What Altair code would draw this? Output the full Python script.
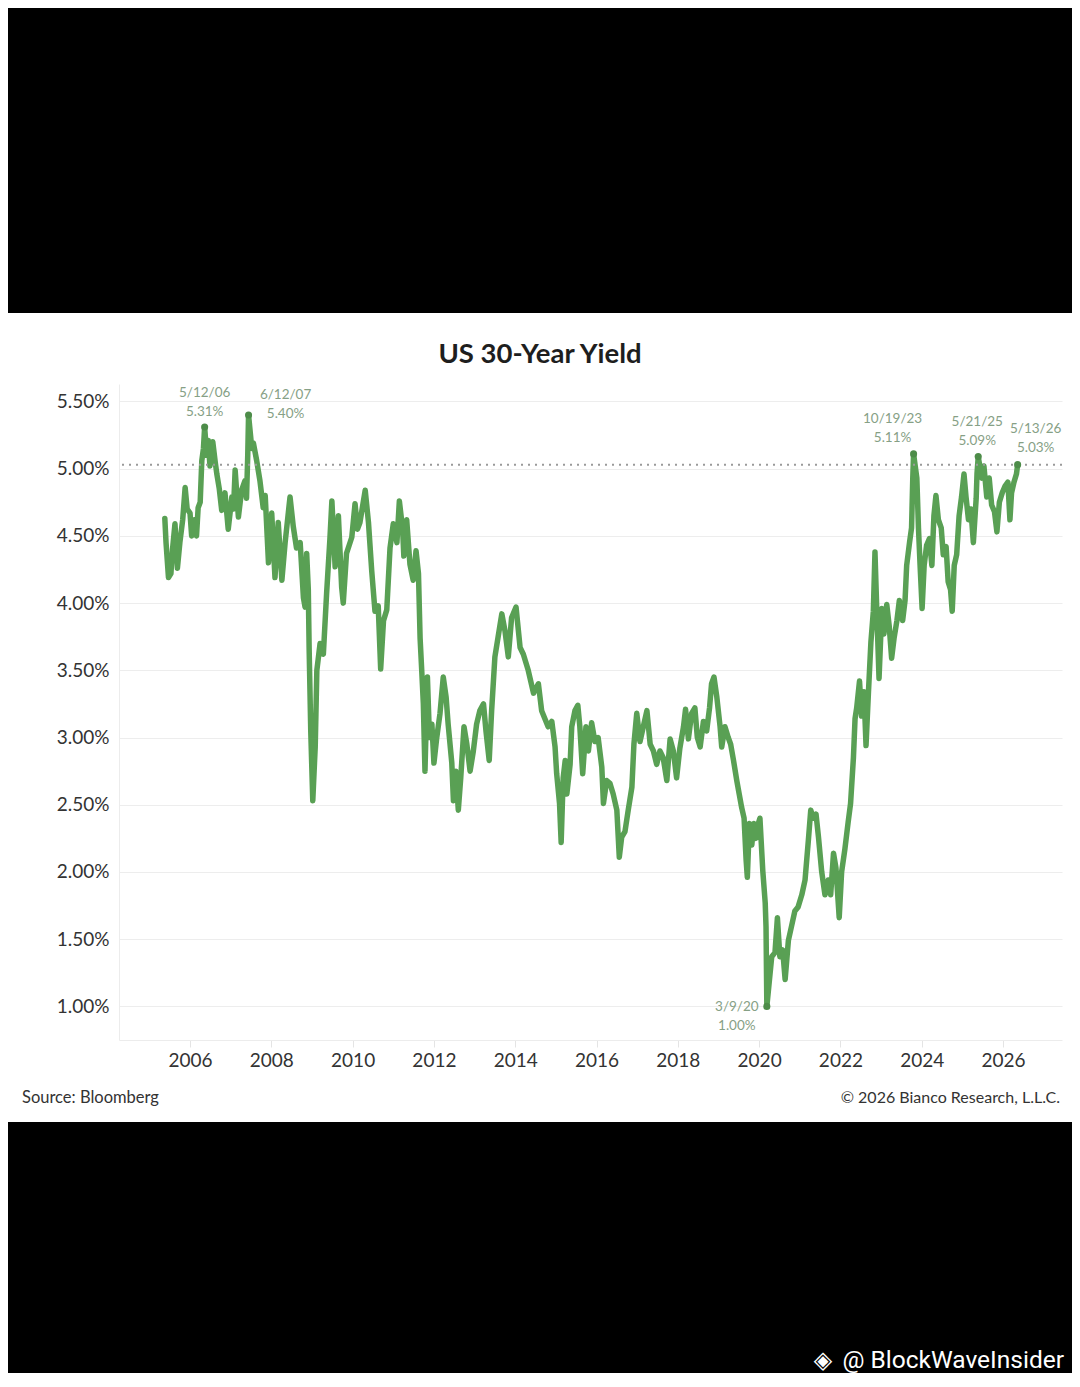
import altair as alt
import pandas as pd

# US 30-year Treasury yield (%)
years_2005_2009 = [
    2005.38, 2005.41, 2005.47, 2005.53, 2005.57, 2005.63, 2005.69, 2005.75, 2005.82, 2005.88,
    2005.93, 2006.00, 2006.04, 2006.11, 2006.16, 2006.20, 2006.25, 2006.29, 2006.33, 2006.36,
    2006.41, 2006.45, 2006.49, 2006.56, 2006.62, 2006.66, 2006.72, 2006.78, 2006.86, 2006.94,
    2007.03, 2007.07, 2007.11, 2007.19, 2007.27, 2007.35, 2007.39, 2007.42, 2007.44, 2007.52,
    2007.56, 2007.64, 2007.72, 2007.80, 2007.85, 2007.93, 2008.01, 2008.09, 2008.17, 2008.26,
    2008.34, 2008.46, 2008.54, 2008.62, 2008.71, 2008.79, 2008.83, 2008.87, 2008.91, 2008.93,
    2008.97, 2009.02, 2009.08, 2009.12, 2009.20, 2009.28, 2009.36, 2009.44, 2009.49, 2009.57,
    2009.65, 2009.73, 2009.77, 2009.85, 2009.98,
]
yields_2005_2009 = [
    4.63, 4.45, 4.19, 4.22, 4.40, 4.59, 4.26, 4.45, 4.62, 4.86,
    4.70, 4.67, 4.50, 4.62, 4.50, 4.71, 4.75, 5.06, 5.15, 5.31,
    5.10, 5.21, 5.02, 5.20, 5.05, 4.96, 4.85, 4.69, 4.82, 4.55,
    4.79, 4.70, 4.99, 4.64, 4.84, 4.91, 4.78, 5.10, 5.40, 5.15,
    5.19, 5.06, 4.91, 4.71, 4.80, 4.30, 4.67, 4.19, 4.60, 4.17,
    4.45, 4.79, 4.57, 4.41, 4.45, 4.04, 3.97, 4.37, 4.10, 3.67,
    3.05, 2.53, 2.93, 3.50, 3.70, 3.62, 4.07, 4.47, 4.76, 4.27,
    4.65, 4.12, 4.00, 4.37, 4.49,
]

years_2010_2014 = [
    2010.06, 2010.12, 2010.18, 2010.31, 2010.39, 2010.47, 2010.55, 2010.63, 2010.69, 2010.76,
    2010.84, 2010.92, 2011.00, 2011.09, 2011.15, 2011.23, 2011.26, 2011.33, 2011.41, 2011.49,
    2011.56, 2011.62, 2011.66, 2011.70, 2011.74, 2011.78, 2011.84, 2011.89, 2011.95, 2012.00,
    2012.07, 2012.15, 2012.23, 2012.30, 2012.35, 2012.44, 2012.48, 2012.54, 2012.60, 2012.66,
    2012.74, 2012.81, 2012.89, 2012.97, 2013.05, 2013.13, 2013.22, 2013.28, 2013.36, 2013.42,
    2013.50, 2013.58, 2013.67, 2013.75, 2013.83, 2013.91, 2014.02, 2014.12, 2014.20, 2014.32,
    2014.45, 2014.57, 2014.65,
]
yields_2010_2014 = [
    4.74, 4.55, 4.60, 4.84, 4.60, 4.24, 3.94, 3.98, 3.51, 3.87,
    3.95, 4.41, 4.59, 4.45, 4.76, 4.55, 4.35, 4.62, 4.29, 4.17,
    4.39, 4.22, 3.74, 3.50, 3.25, 2.75, 3.45, 3.00, 3.10, 2.81,
    3.00, 3.18, 3.45, 3.30, 3.10, 2.81, 2.53, 2.75, 2.46, 2.70,
    3.08, 2.95, 2.75, 2.90, 3.10, 3.20, 3.25, 3.05, 2.83, 3.20,
    3.60, 3.75, 3.92, 3.79, 3.60, 3.89, 3.97, 3.67, 3.62, 3.50,
    3.33, 3.40, 3.20,
]

years_2014_2020 = [
    2014.81, 2014.90, 2014.98, 2015.02, 2015.09, 2015.13, 2015.18, 2015.23, 2015.27, 2015.35,
    2015.39, 2015.47, 2015.54, 2015.59, 2015.66, 2015.74, 2015.80, 2015.88, 2015.96, 2016.04,
    2016.13, 2016.17, 2016.25, 2016.33, 2016.41, 2016.50, 2016.56, 2016.62, 2016.70, 2016.78,
    2016.87, 2016.92, 2016.99, 2017.07, 2017.15, 2017.24, 2017.32, 2017.40, 2017.48, 2017.56,
    2017.64, 2017.73, 2017.81, 2017.89, 2017.97, 2018.05, 2018.14, 2018.19, 2018.26, 2018.34,
    2018.42, 2018.48, 2018.55, 2018.63, 2018.71, 2018.78, 2018.83, 2018.89, 2018.96, 2019.04,
    2019.08, 2019.16, 2019.24, 2019.30, 2019.37, 2019.45, 2019.51, 2019.57, 2019.63, 2019.68,
    2019.71, 2019.76, 2019.82, 2019.87, 2019.92, 2019.98, 2020.02, 2020.09, 2020.15, 2020.17,
    2020.19,
]
yields_2014_2020 = [
    3.08, 3.12, 2.93, 2.73, 2.51, 2.22, 2.70, 2.83, 2.58, 2.80,
    3.08, 3.20, 3.24, 3.08, 2.73, 3.08, 2.90, 3.11, 2.97, 3.00,
    2.78, 2.51, 2.68, 2.66, 2.58, 2.46, 2.11, 2.26, 2.30, 2.46,
    2.63, 2.95, 3.18, 2.97, 3.08, 3.20, 2.95, 2.90, 2.80, 2.90,
    2.85, 2.68, 2.99, 2.90, 2.70, 2.92, 3.08, 3.21, 2.99, 3.18,
    3.22, 3.00, 2.93, 3.12, 3.05, 3.22, 3.40, 3.45, 3.30, 3.08,
    2.93, 3.08, 3.00, 2.95, 2.83, 2.68, 2.58, 2.48, 2.40, 2.09,
    1.96, 2.36, 2.20, 2.36, 2.25, 2.36, 2.40, 2.01, 1.77, 1.59,
    1.00,
]

years_2020_2026 = [
    2020.31, 2020.39, 2020.45, 2020.51, 2020.58, 2020.64, 2020.72, 2020.80, 2020.88, 2020.96,
    2021.05, 2021.13, 2021.21, 2021.27, 2021.33, 2021.40, 2021.46, 2021.54, 2021.62, 2021.70,
    2021.76, 2021.83, 2021.89, 2021.97, 2022.03, 2022.11, 2022.19, 2022.25, 2022.32, 2022.36,
    2022.40, 2022.47, 2022.52, 2022.58, 2022.63, 2022.69, 2022.75, 2022.81, 2022.85, 2022.89,
    2022.95, 2023.02, 2023.07, 2023.14, 2023.20, 2023.26, 2023.32, 2023.39, 2023.45, 2023.53,
    2023.59, 2023.63, 2023.70, 2023.75, 2023.78, 2023.80, 2023.88, 2023.92, 2023.96, 2024.01,
    2024.06, 2024.12, 2024.19, 2024.25, 2024.30, 2024.35, 2024.41, 2024.48, 2024.53, 2024.60,
    2024.65, 2024.71, 2024.75, 2024.80, 2024.86, 2024.92, 2024.98, 2025.04, 2025.09, 2025.15,
    2025.21, 2025.27, 2025.34, 2025.36, 2025.39, 2025.48, 2025.53, 2025.60, 2025.66, 2025.72,
    2025.79, 2025.85, 2025.91, 2025.98, 2026.05, 2026.12, 2026.17, 2026.21, 2026.27, 2026.33,
    2026.36,
]
yields_2020_2026 = [
    1.37, 1.40, 1.66, 1.37, 1.42, 1.20, 1.49, 1.60, 1.71, 1.74,
    1.83, 1.94, 2.23, 2.46, 2.40, 2.43, 2.26, 2.00, 1.83, 1.94,
    1.83, 2.14, 2.03, 1.66, 2.00, 2.17, 2.37, 2.51, 2.85, 3.14,
    3.22, 3.42, 3.16, 3.34, 2.94, 3.34, 3.71, 3.94, 4.38, 3.99,
    3.44, 3.96, 3.77, 3.99, 3.83, 3.59, 3.74, 3.87, 4.02, 3.87,
    4.02, 4.28, 4.45, 4.56, 4.93, 5.11, 4.93, 4.56, 4.28, 3.96,
    4.28, 4.43, 4.48, 4.28, 4.65, 4.80, 4.62, 4.56, 4.36, 4.42,
    4.16, 4.10, 3.94, 4.28, 4.36, 4.65, 4.79, 4.96, 4.79, 4.62,
    4.70, 4.45, 4.78, 4.96, 5.09, 4.93, 5.02, 4.79, 4.93, 4.73,
    4.68, 4.53, 4.75, 4.82, 4.87, 4.90, 4.62, 4.82, 4.90, 4.96,
    5.03,
]

# marked highs / low
mark_dates = ["5/12/06", "6/12/07", "3/9/20", "10/19/23", "5/21/25", "5/13/26"]
mark_years = [2006.36, 2007.44, 2020.19, 2023.80, 2025.39, 2026.36]
mark_yields = [5.31, 5.40, 1.00, 5.11, 5.09, 5.03]

latest_yield = 5.03
y_ticks = [1.0, 1.5, 2.0, 2.5, 3.0, 3.5, 4.0, 4.5, 5.0, 5.5]
x_ticks = [2006, 2008, 2010, 2012, 2014, 2016, 2018, 2020, 2022, 2024, 2026]

GREEN = "#59a054"
DOT_GREEN = "#4d8c49"
NOTE_GRAY = "#86a085"
TEXT = "#333333"
FONT = "Lato"

series = pd.DataFrame({
    "year": years_2005_2009 + years_2010_2014 + years_2014_2020 + years_2020_2026,
    "yield": yields_2005_2009 + yields_2010_2014 + yields_2014_2020 + yields_2020_2026,
})
marks_df = pd.DataFrame({"year": mark_years, "yield": mark_yields, "date": mark_dates})
marks_df["label"] = [f"{d}\n{v:.2f}%" for d, v in zip(mark_dates, mark_yields)]

x_scale = alt.Scale(domain=[2004.253, 2027.451], nice=False, zero=False)
y_scale = alt.Scale(domain=[0.75, 5.63], nice=False, zero=False)

one_row = pd.DataFrame({"k": [0]})

# black bands of the screenshot above and below the chart card
bands = alt.Chart(one_row).mark_rect(color="black").encode(
    x=alt.value(-130), x2=alt.value(980), y=alt.value(-400), y2=alt.value(-71)
) + alt.Chart(one_row).mark_rect(color="black").encode(
    x=alt.value(-130), x2=alt.value(980), y=alt.value(738), y2=alt.value(1010)
)

level = alt.Chart(pd.DataFrame({"yield": [latest_yield]})).mark_rule(
    color="#9a9a9a", strokeDash=[2, 5], strokeWidth=2
).encode(y=alt.Y("yield:Q", scale=y_scale))

line = alt.Chart(series).mark_line(
    color=GREEN, strokeWidth=5.5, strokeJoin="round", strokeCap="round"
).encode(
    x=alt.X("year:Q", scale=x_scale, axis=alt.Axis(
        values=x_ticks, format="d", title=None, grid=False,
        ticks=True, tickColor="#e4e4e4", tickSize=7, labelPadding=4,
        domainColor="#ececec",
    )),
    y=alt.Y("yield:Q", scale=y_scale, axis=alt.Axis(
        values=y_ticks, labelExpr="format(datum.value, '.2f') + '%'", title=None,
        grid=True, gridColor="#ededed", ticks=False, labelPadding=10,
        domainColor="#ececec",
    )),
)

dots = alt.Chart(marks_df).mark_circle(size=50, color=DOT_GREEN, opacity=1).encode(
    x=alt.X("year:Q", scale=x_scale), y=alt.Y("yield:Q", scale=y_scale)
)

# where each note sits relative to its point
note_offsets = {
    "5/12/06": (0, -34),
    "6/12/07": (37, -19.5),
    "3/9/20": (-30, 1),
    "10/19/23": (-21, -35),
    "5/21/25": (-1, -34.5),
    "5/13/26": (18, -36),
}
notes = []
for d, (dx, dy) in note_offsets.items():
    notes.append(
        alt.Chart(marks_df).transform_filter(alt.datum.date == d).mark_text(
            lineBreak="\n", lineHeight=19, fontSize=13.5, font=FONT, color=NOTE_GRAY,
            align="center", baseline="middle", dx=dx, dy=dy,
        ).encode(x=alt.X("year:Q", scale=x_scale), y=alt.Y("yield:Q", scale=y_scale), text="label:N")
    )

title = alt.Chart(one_row).mark_text(
    text="US 30-Year Yield", font=FONT, fontSize=27.5, fontWeight="bold", color="#1e1e1e",
    align="center", baseline="middle",
).encode(x=alt.value(421), y=alt.value(-29))

source = alt.Chart(one_row).mark_text(
    text="Source: Bloomberg", font=FONT, fontSize=16.5, color=TEXT, align="left", baseline="middle",
).encode(x=alt.value(-97), y=alt.value(714))

credit = alt.Chart(one_row).mark_text(
    text="© 2026 Bianco Research, L.L.C.", font=FONT, fontSize=16, color=TEXT,
    align="right", baseline="middle",
).encode(x=alt.value(941), y=alt.value(714))

watermark = alt.Chart(one_row).mark_text(
    text="@ BlockWaveInsider", font="Roboto", fontSize=24.5, color="white",
    align="right", baseline="middle",
).encode(x=alt.value(945), y=alt.value(977))

logo = alt.Chart(one_row).mark_text(
    text="◈", font="DejaVu Sans", fontSize=24, color="white", align="center", baseline="middle",
).encode(x=alt.value(704), y=alt.value(977))

chart = alt.layer(
    line, level, dots, *notes, bands, title, source, credit, watermark, logo
).properties(
    width=943,
    height=656,
    autosize=alt.AutoSizeParams(type="none"),
    padding={"left": 111, "top": 376, "right": 10, "bottom": 333},
).configure(
    background="white",
).configure_view(
    stroke=None,
).configure_axis(
    labelFont=FONT, labelFontSize=19, labelColor=TEXT,
)

chart.save("out.html", embed_options={"renderer": "svg", "actions": False})
